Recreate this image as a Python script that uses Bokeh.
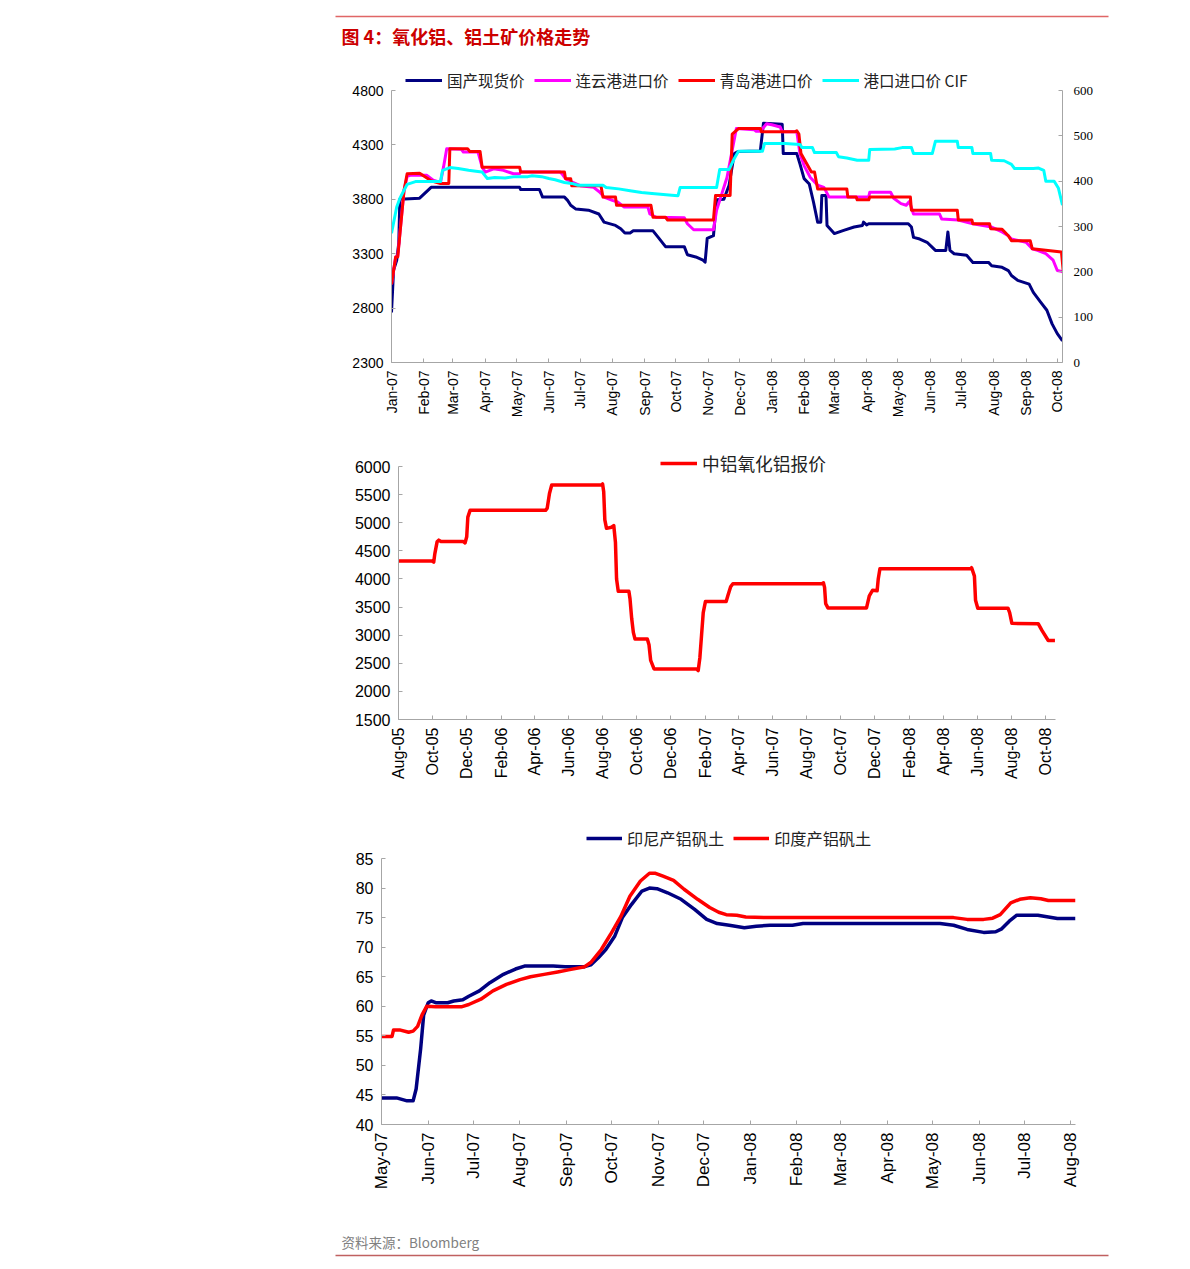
import pandas as pd
from math import pi
from bokeh.plotting import figure
from bokeh.layouts import column
from bokeh.models import (Range1d, LinearAxis, FixedTicker, DatetimeTickFormatter,
                          Legend, LegendItem, Label)
from bokeh.embed import file_html
from bokeh.resources import INLINE

PAGE_W = 1190
CJK = "Noto Sans CJK SC"
NUM = "Liberation Sans"
AXIS_GRAY = "#a6a6a6"
LEGEND_H = 20

# ---------------- chart 1: domestic spot vs port import prices ----------------
c1_ticks = ["Jan-07", "Feb-07", "Mar-07", "Apr-07", "May-07", "Jun-07", "Jul-07", "Aug-07",
            "Sep-07", "Oct-07", "Nov-07", "Dec-07", "Jan-08", "Feb-08", "Mar-08", "Apr-08",
            "May-08", "Jun-08", "Jul-08", "Aug-08", "Sep-08", "Oct-08"]
c1_left_ticks = [2300, 2800, 3300, 3800, 4300, 4800]
c1_right_ticks = [0, 100, 200, 300, 400, 500, 600]

spot_dates = ["2007-01-01", "2007-01-03", "2007-01-06", "2007-01-08", "2007-01-09", "2007-01-28",
              "2007-02-08", "2007-05-04", "2007-05-05", "2007-05-23", "2007-05-26", "2007-06-16",
              "2007-06-19", "2007-06-22", "2007-06-27", "2007-07-09", "2007-07-19", "2007-07-24",
              "2007-08-04", "2007-08-09", "2007-08-13", "2007-08-18", "2007-08-21", "2007-09-09",
              "2007-09-14", "2007-09-21", "2007-10-09", "2007-10-12", "2007-10-20", "2007-10-27",
              "2007-10-29", "2007-10-31", "2007-11-06", "2007-11-09", "2007-11-16", "2007-11-21",
              "2007-11-26", "2007-11-30", "2007-12-21", "2007-12-24", "2008-01-11", "2008-01-12",
              "2008-01-25", "2008-01-28", "2008-02-01", "2008-02-06", "2008-02-10", "2008-02-14",
              "2008-02-17", "2008-02-18", "2008-02-22", "2008-02-23", "2008-03-01", "2008-03-10",
              "2008-03-20", "2008-03-28", "2008-03-29", "2008-04-01", "2008-04-03", "2008-05-11",
              "2008-05-14", "2008-05-16", "2008-05-22", "2008-05-29", "2008-06-06", "2008-06-16",
              "2008-06-18", "2008-06-20", "2008-06-24", "2008-07-06", "2008-07-12", "2008-07-27",
              "2008-07-30", "2008-08-09", "2008-08-15", "2008-08-18", "2008-08-24", "2008-09-04",
              "2008-09-08", "2008-09-15", "2008-09-21", "2008-09-26", "2008-10-01", "2008-10-06"]
spot_price = [2760, 3150, 3240, 3400, 3800, 3810, 3910, 3910, 3890, 3890, 3820, 3820, 3790, 3745,
              3710, 3700, 3665, 3590, 3560, 3530, 3490, 3490, 3510, 3510, 3450, 3365, 3365, 3290,
              3270, 3240, 3222, 3440, 3465, 3795, 3800, 3930, 4220, 4240, 4245, 4500, 4490, 4220,
              4220, 4125, 3990, 3940, 3775, 3590, 3590, 3835, 3835, 3560, 3485, 3515, 3545, 3560,
              3590, 3565, 3575, 3575, 3545, 3450, 3435, 3405, 3330, 3330, 3500, 3330, 3300, 3285,
              3220, 3220, 3190, 3175, 3145, 3100, 3055, 3020, 2945, 2855, 2780, 2655, 2565, 2500]

lyg_dates = ["2007-01-01", "2007-01-05", "2007-01-07", "2007-01-13", "2007-01-16", "2007-01-19",
             "2007-02-04", "2007-02-10", "2007-02-17", "2007-02-20", "2007-02-23", "2007-03-09",
             "2007-03-11", "2007-03-25", "2007-03-29", "2007-04-01", "2007-04-09", "2007-04-17",
             "2007-04-28", "2007-05-04", "2007-05-05", "2007-06-12", "2007-06-14", "2007-06-17",
             "2007-06-23", "2007-07-01", "2007-07-14", "2007-07-20", "2007-07-24", "2007-08-01",
             "2007-08-06", "2007-08-12", "2007-09-04", "2007-09-06", "2007-09-12", "2007-10-09",
             "2007-10-12", "2007-10-18", "2007-11-06", "2007-11-09", "2007-11-14", "2007-11-19",
             "2007-11-24", "2007-11-28", "2007-12-15", "2007-12-17", "2007-12-21", "2007-12-27",
             "2008-01-01", "2008-01-09", "2008-01-11", "2008-01-25", "2008-01-28", "2008-02-01",
             "2008-02-07", "2008-02-14", "2008-02-20", "2008-02-25", "2008-04-03", "2008-04-04",
             "2008-04-24", "2008-04-27", "2008-05-04", "2008-05-09", "2008-05-12", "2008-05-16",
             "2008-06-10", "2008-06-12", "2008-06-28", "2008-07-12", "2008-07-30", "2008-08-09",
             "2008-08-15", "2008-08-18", "2008-09-01", "2008-09-07", "2008-09-12", "2008-09-20",
             "2008-09-27", "2008-10-01", "2008-10-06"]
lyg_price = [3020, 3270, 3280, 3880, 4010, 4020, 4020, 3975, 3955, 4100, 4265, 4260, 4235, 4235,
             4095, 4050, 4080, 4070, 4035, 4035, 4050, 4050, 4030, 3990, 3960, 3925, 3910, 3865,
             3820, 3790, 3775, 3730, 3730, 3665, 3635, 3630, 3575, 3520, 3520, 3700, 3850, 4000,
             4250, 4450, 4440, 4425, 4425, 4495, 4485, 4465, 4420, 4420, 4220, 4110, 4000, 3930,
             3910, 3820, 3820, 3865, 3865, 3810, 3760, 3745, 3780, 3665, 3665, 3620, 3610, 3575,
             3545, 3500, 3465, 3435, 3405, 3345, 3330, 3300, 3240, 3145, 3135]

qd_dates = ["2007-01-01", "2007-01-05", "2007-01-07", "2007-01-13", "2007-01-16", "2007-01-28",
            "2007-02-04", "2007-02-08", "2007-02-17", "2007-02-25", "2007-02-26", "2007-03-15",
            "2007-03-17", "2007-03-27", "2007-03-29", "2007-05-04", "2007-05-05", "2007-06-16",
            "2007-06-17", "2007-06-22", "2007-06-23", "2007-07-21", "2007-07-23", "2007-08-04",
            "2007-08-05", "2007-09-07", "2007-09-09", "2007-09-21", "2007-09-23", "2007-11-06",
            "2007-11-08", "2007-11-22", "2007-11-24", "2007-11-30", "2007-12-21", "2007-12-22",
            "2008-01-23", "2008-01-25", "2008-01-27", "2008-01-29", "2008-02-08", "2008-02-11",
            "2008-02-14", "2008-03-13", "2008-03-14", "2008-03-22", "2008-03-23", "2008-04-03",
            "2008-04-04", "2008-05-13", "2008-05-14", "2008-06-27", "2008-06-28", "2008-07-11",
            "2008-07-12", "2008-07-28", "2008-07-29", "2008-08-09", "2008-08-15", "2008-08-18",
            "2008-09-05", "2008-09-07", "2008-10-05", "2008-10-07"]
qd_price = [3020, 3270, 3270, 3880, 4035, 4040, 3995, 3970, 3945, 3945, 4265, 4265, 4240, 4240,
            4095, 4095, 4050, 4050, 3990, 3990, 3925, 3925, 3820, 3820, 3745, 3745, 3635, 3635,
            3610, 3610, 3835, 3835, 4400, 4450, 4450, 4420, 4420, 4430, 4400, 4220, 4050, 4050,
            3895, 3895, 3820, 3820, 3795, 3795, 3820, 3820, 3700, 3700, 3610, 3610, 3575, 3575,
            3530, 3525, 3465, 3420, 3420, 3345, 3315, 3110]

cif_dates = ["2007-01-01", "2007-01-06", "2007-01-09", "2007-01-13", "2007-01-16", "2007-01-24",
             "2007-02-17", "2007-02-19", "2007-02-26", "2007-03-06", "2007-03-16", "2007-03-23",
             "2007-03-29", "2007-04-03", "2007-04-10", "2007-04-20", "2007-04-30", "2007-05-12",
             "2007-05-16", "2007-05-25", "2007-06-01", "2007-06-07", "2007-06-16", "2007-06-23",
             "2007-06-29", "2007-07-23", "2007-07-26", "2007-08-07", "2007-08-18", "2007-08-29",
             "2007-09-08", "2007-09-27", "2007-10-03", "2007-10-05", "2007-11-09", "2007-11-12",
             "2007-11-21", "2007-11-26", "2007-11-30", "2007-12-23", "2007-12-25", "2008-01-14",
             "2008-01-28", "2008-01-30", "2008-02-09", "2008-02-11", "2008-03-03", "2008-03-05",
             "2008-03-13", "2008-03-23", "2008-04-03", "2008-04-04", "2008-04-28", "2008-05-05",
             "2008-05-14", "2008-05-16", "2008-06-03", "2008-06-06", "2008-06-27", "2008-06-28",
             "2008-07-11", "2008-07-12", "2008-07-29", "2008-07-30", "2008-08-11", "2008-08-18",
             "2008-08-21", "2008-09-08", "2008-09-13", "2008-09-18", "2008-09-20", "2008-09-28",
             "2008-10-02", "2008-10-06"]
cif_price = [285, 343, 362, 380, 393, 399, 399, 424, 430, 428, 424, 422, 420, 406, 408, 407, 410,
             410, 412, 410, 406, 403, 397, 395, 391, 391, 386, 383, 379, 375, 373, 369, 368, 386,
             386, 426, 426, 450, 466, 466, 483, 483, 481, 474, 474, 463, 463, 454, 451, 446, 446,
             470, 471, 474, 474, 461, 461, 488, 488, 474, 474, 461, 461, 446, 445, 437, 428, 428,
             429, 424, 400, 400, 385, 347]

# ---------------- chart 2: Chalco alumina quote ----------------
c2_ticks = ["Aug-05", "Oct-05", "Dec-05", "Feb-06", "Apr-06", "Jun-06", "Aug-06", "Oct-06",
            "Dec-06", "Feb-07", "Apr-07", "Jun-07", "Aug-07", "Oct-07", "Dec-07", "Feb-08",
            "Apr-08", "Jun-08", "Aug-08", "Oct-08"]
c2_y_ticks = [1500, 2000, 2500, 3000, 3500, 4000, 4500, 5000, 5500, 6000]

chalco_dates = ["2005-08-01", "2005-09-30", "2005-10-03", "2005-10-05", "2005-10-09", "2005-10-12",
                "2005-10-16", "2005-11-25", "2005-11-28", "2005-12-01", "2005-12-03", "2005-12-07",
                "2006-04-21", "2006-04-24", "2006-04-28", "2006-05-02", "2006-07-30", "2006-08-01",
                "2006-08-03", "2006-08-05", "2006-08-08", "2006-08-17", "2006-08-21", "2006-08-24",
                "2006-08-26", "2006-08-29", "2006-09-17", "2006-09-19", "2006-09-22", "2006-09-25",
                "2006-09-28", "2006-10-20", "2006-10-23", "2006-10-26", "2006-11-01", "2007-01-16",
                "2007-01-19", "2007-01-22", "2007-01-25", "2007-01-28", "2007-02-01", "2007-03-10",
                "2007-03-13", "2007-03-18", "2007-03-22", "2007-08-28", "2007-08-31", "2007-09-02",
                "2007-09-04", "2007-09-08", "2007-11-16", "2007-11-21", "2007-11-27", "2007-12-05",
                "2007-12-07", "2007-12-10", "2008-05-21", "2008-05-22", "2008-05-27", "2008-05-29",
                "2008-06-02", "2008-07-26", "2008-07-29", "2008-08-02", "2008-09-18", "2008-09-25",
                "2008-10-06", "2008-10-18"]
chalco_price = [4320, 4320, 4300, 4450, 4660, 4690, 4665, 4665, 4640, 4750, 5100, 5220, 5220, 5260,
                5520, 5670, 5670, 5690, 5550, 5050, 4900, 4920, 4950, 4650, 4000, 3780, 3780, 3650,
                3300, 3050, 2930, 2930, 2830, 2550, 2400, 2400, 2370, 2600, 3000, 3400, 3600, 3600,
                3700, 3860, 3915, 3915, 3930, 3850, 3560, 3485, 3485, 3700, 3800, 3790, 4000, 4180,
                4180, 4200, 4050, 3620, 3480, 3480, 3400, 3210, 3205, 3080, 2905, 2905]

# ---------------- chart 3: bauxite, Indonesia vs India ----------------
c3_ticks = ["May-07", "Jun-07", "Jul-07", "Aug-07", "Sep-07", "Oct-07", "Nov-07", "Dec-07",
            "Jan-08", "Feb-08", "Mar-08", "Apr-08", "May-08", "Jun-08", "Jul-08", "Aug-08"]
c3_y_ticks = [40, 45, 50, 55, 60, 65, 70, 75, 80, 85]

indo_dates = ["2007-05-01", "2007-05-11", "2007-05-18", "2007-05-22", "2007-05-24", "2007-05-27",
              "2007-05-29", "2007-06-01", "2007-06-03", "2007-06-06", "2007-06-14", "2007-06-18",
              "2007-06-24", "2007-06-28", "2007-07-05", "2007-07-12", "2007-07-21", "2007-07-29",
              "2007-08-04", "2007-08-23", "2007-08-31", "2007-09-13", "2007-09-17", "2007-09-22",
              "2007-09-27", "2007-10-03", "2007-10-08", "2007-10-14", "2007-10-21", "2007-10-26",
              "2007-10-31", "2007-11-07", "2007-11-16", "2007-11-25", "2007-12-03", "2007-12-10",
              "2007-12-18", "2007-12-28", "2008-01-05", "2008-01-14", "2008-01-29", "2008-02-05",
              "2008-05-06", "2008-05-15", "2008-05-24", "2008-06-04", "2008-06-12", "2008-06-16",
              "2008-06-21", "2008-06-26", "2008-07-10", "2008-07-17", "2008-07-23", "2008-08-04"]
indo_price = [44.5, 44.5, 44.0, 44.0, 46.0, 52.8, 58.5, 60.6, 60.9, 60.6, 60.6, 60.9, 61.1, 61.7,
              62.6, 64.0, 65.4, 66.3, 66.8, 66.8, 66.7, 66.7, 67.0, 68.2, 69.6, 71.9, 75.0, 77.2,
              79.5, 80.0, 79.9, 79.2, 78.1, 76.4, 74.7, 74.0, 73.7, 73.3, 73.55, 73.7, 73.7, 74.0,
              74.0, 73.7, 73.0, 72.5, 72.6, 73.1, 74.4, 75.4, 75.4, 75.1, 74.85, 74.85]

india_dates = ["2007-05-01", "2007-05-08", "2007-05-09", "2007-05-13", "2007-05-19", "2007-05-22",
               "2007-05-25", "2007-05-28", "2007-05-31", "2007-06-06", "2007-06-23", "2007-06-28",
               "2007-07-06", "2007-07-14", "2007-07-23", "2007-08-01", "2007-08-08", "2007-08-17",
               "2007-08-26", "2007-09-03", "2007-09-13", "2007-09-17", "2007-09-24", "2007-09-30",
               "2007-10-07", "2007-10-13", "2007-10-20", "2007-10-26", "2007-10-30", "2007-11-04",
               "2007-11-11", "2007-11-18", "2007-11-27", "2007-12-05", "2007-12-11", "2007-12-16",
               "2007-12-23", "2007-12-29", "2008-01-14", "2008-05-15", "2008-05-24", "2008-06-04",
               "2008-06-10", "2008-06-15", "2008-06-22", "2008-06-28", "2008-07-05", "2008-07-12",
               "2008-07-17", "2008-08-04"]
india_price = [54.9, 54.9, 56.0, 56.0, 55.6, 55.8, 56.6, 58.6, 60.0, 59.9, 59.9, 60.3, 61.2, 62.6,
               63.7, 64.5, 65.0, 65.4, 65.8, 66.2, 66.7, 67.4, 69.6, 72.1, 75.2, 78.6, 81.2, 82.5,
               82.5, 82.0, 81.3, 79.8, 78.1, 76.7, 75.9, 75.5, 75.4, 75.1, 75.0, 75.0, 74.7, 74.7,
               74.9, 75.5, 77.5, 78.1, 78.35, 78.2, 77.9, 77.9]


def month_ticks(labels):
    return [pd.to_datetime(s, format="%b-%y").value / 1e6 for s in labels]


def no_align(p):
    # each panel keeps its own frame position inside the stacked page
    try:
        p.frame_align = False
    except AttributeError:
        pass


def padded_top(lo, hi, axis_px, headroom_px):
    # extend the value range above the axis so the legend row fits inside the frame
    return hi + (hi - lo) / axis_px * headroom_px


def style_axis(ax, size, font=NUM, standoff=8):
    ax.axis_line_color = AXIS_GRAY
    ax.major_tick_line_color = AXIS_GRAY
    ax.major_tick_in = 4
    ax.major_tick_out = 0
    ax.minor_tick_line_color = None
    ax.major_label_text_font = font
    ax.major_label_text_font_size = f"{size}px"
    ax.major_label_text_color = "#000000"
    ax.major_label_standoff = standoff


def chart(height, borders, x_span, y_ticks, axis_px, headroom_px, x_labels, xsize, ysize):
    left, right, top, bottom = borders
    lo, hi = y_ticks[0], y_ticks[-1]
    p = figure(width=PAGE_W, height=height, x_axis_type="datetime",
               x_range=Range1d(pd.Timestamp(x_span[0]), pd.Timestamp(x_span[1])),
               y_range=Range1d(lo, padded_top(lo, hi, axis_px, headroom_px)),
               toolbar_location=None, output_backend="svg",
               min_border_left=left, min_border_right=right,
               min_border_top=top, min_border_bottom=bottom)
    no_align(p)
    p.outline_line_color = None
    p.grid.visible = False
    fmt = "%b-%y"
    p.xaxis.ticker = FixedTicker(ticks=month_ticks(x_labels))
    p.xaxis.formatter = DatetimeTickFormatter(days=fmt, months=fmt, years=fmt)
    p.xaxis.major_label_orientation = pi / 2
    style_axis(p.xaxis[0], xsize)
    p.yaxis.ticker = FixedTicker(ticks=y_ticks)
    p.yaxis.bounds = (lo, hi)
    style_axis(p.yaxis[0], ysize)
    return p


def add_legend(p, items, loc, font_px, glyph_w, spacing):
    leg = Legend(items=[LegendItem(label=t, renderers=[r]) for t, r in items],
                 orientation="horizontal", location=loc, padding=0, margin=0,
                 spacing=spacing, glyph_width=glyph_w, glyph_height=LEGEND_H,
                 label_height=LEGEND_H, label_standoff=5, border_line_color=None,
                 background_fill_alpha=0, label_text_font=CJK,
                 label_text_font_size=f"{font_px}px", label_text_color="#222222")
    p.add_layout(leg, "center")


def blank(height):
    p = figure(width=PAGE_W, height=height, x_range=Range1d(0, PAGE_W),
               y_range=Range1d(height, 0), x_axis_location=None, y_axis_location=None,
               toolbar_location=None, output_backend="svg", min_border=0)
    no_align(p)
    p.outline_line_color = None
    p.grid.visible = False
    return p


# header: rule + caption
head = blank(60)
head.segment(x0=[335], y0=[16], x1=[1108], y1=[16], line_color="#e06666", line_width=1.3)
head.add_layout(Label(x=341, y=35, text="图 4：氧化铝、铝土矿价格走势", text_font=CJK,
                      text_font_style="bold", text_font_size="18px", text_color="#cc0000",
                      text_baseline="middle"))

# chart 1 (frame 68..362, value axis 90..362)
p1 = chart(380, (391, 128, 8, 78), ("2007-01-01", "2008-10-06"), c1_left_ticks, 272, 22,
           c1_ticks, 14, 14)
cif_lo, cif_hi = c1_right_ticks[0], c1_right_ticks[-1]
p1.extra_y_ranges = {"cif": Range1d(cif_lo, padded_top(cif_lo, cif_hi, 272, 22))}
right_ax = LinearAxis(y_range_name="cif", ticker=FixedTicker(ticks=c1_right_ticks),
                      bounds=(cif_lo, cif_hi))
style_axis(right_ax, 13, font="Liberation Serif", standoff=11)
p1.add_layout(right_ax, "right")

r_spot = p1.line(pd.to_datetime(spot_dates), spot_price, line_color="#000080", line_width=3,
                 line_join="round")
r_lyg = p1.line(pd.to_datetime(lyg_dates), lyg_price, line_color="#ff00ff", line_width=3,
                line_join="round")
r_qd = p1.line(pd.to_datetime(qd_dates), qd_price, line_color="#ff0000", line_width=3,
               line_join="round")
r_cif = p1.line(pd.to_datetime(cif_dates), cif_price, line_color="#00ffff", line_width=3,
                line_join="round", y_range_name="cif")
add_legend(p1, [("国产现货价", r_spot), ("连云港进口价", r_lyg), ("青岛港进口价", r_qd),
                ("港口进口价 CIF", r_cif)], (14, 362 - 81 - LEGEND_H // 2), 15.5, 37, 9)

# chart 2 (frame 446..719, value axis 466..719)
p2 = chart(360, (398, 135, 6, 81), ("2005-08-01", "2008-10-19"), c2_y_ticks, 253, 20,
           c2_ticks, 16, 16)
r_chalco = p2.line(pd.to_datetime(chalco_dates), chalco_price, line_color="#ff0000",
                   line_width=3.5, line_join="round")
add_legend(p2, [("中铝氧化铝报价", r_chalco)], (262, 719 - 466 - LEGEND_H // 2), 17.7, 37, 9)

# chart 3 (frame 826..1124, value axis 858..1124)
p3 = chart(400, (381, 115, 26, 76), ("2007-05-01", "2008-08-04"), c3_y_ticks, 266, 32,
           c3_ticks, 17, 16)
r_indo = p3.line(pd.to_datetime(indo_dates), indo_price, line_color="#000080", line_width=3.5,
                 line_join="round")
r_india = p3.line(pd.to_datetime(india_dates), india_price, line_color="#ff0000", line_width=3.5,
                  line_join="round")
add_legend(p3, [("印尼产铝矾土", r_indo), ("印度产铝矾土", r_india)],
           (205, 1124 - 840 - LEGEND_H // 2), 16.2, 36, 9)

# footer: source + rule
foot = blank(69)
foot.add_layout(Label(x=341, y=41, text="资料来源：Bloomberg", text_font=CJK,
                      text_font_size="13.5px", text_color="#808080", text_baseline="middle"))
foot.segment(x0=[335], y0=[55], x1=[1108], y1=[55], line_color="#c06060", line_width=1.3)

page = column(head, p1, p2, p3, foot, spacing=0)
open("out.html", "w").write(file_html(page, INLINE))
